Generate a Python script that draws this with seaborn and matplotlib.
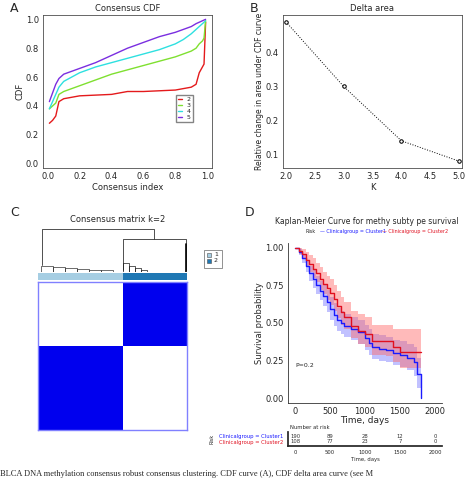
import numpy as np
import matplotlib
matplotlib.use("Agg")
import matplotlib.pyplot as plt
import seaborn as sns
import pandas as pd
from matplotlib.colors import ListedColormap

sns.set_theme(style="white")
plt.rcParams['font.family'] = ['DejaVu Sans']

# Panel A data
cdf_x = [0.01, 0.03, 0.05, 0.07, 0.1, 0.2, 0.3, 0.4, 0.5, 0.6, 0.7, 0.8, 0.85, 0.9, 0.93, 0.95, 0.97, 0.98, 0.99]
cdf_k2 = [0.28, 0.30, 0.33, 0.43, 0.45, 0.47, 0.475, 0.48, 0.50, 0.50, 0.505, 0.51, 0.52, 0.53, 0.55, 0.63, 0.67, 0.69, 0.98]
cdf_k3 = [0.38, 0.40, 0.42, 0.48, 0.50, 0.54, 0.58, 0.62, 0.65, 0.68, 0.71, 0.74, 0.76, 0.78, 0.80, 0.83, 0.85, 0.87, 0.99]
cdf_k4 = [0.38, 0.43, 0.48, 0.53, 0.57, 0.63, 0.67, 0.70, 0.73, 0.76, 0.79, 0.83, 0.86, 0.90, 0.93, 0.95, 0.97, 0.98, 0.99]
cdf_k5 = [0.43, 0.49, 0.55, 0.59, 0.62, 0.66, 0.70, 0.75, 0.80, 0.84, 0.88, 0.91, 0.93, 0.95, 0.97, 0.98, 0.99, 0.995, 1.0]
cdf_colors = ['#e41a1c', '#7fe030', '#2ee0e0', '#7a2ee0']
cdf_labels = ['2', '3', '4', '5']

# Panel B data
k_vals = [2, 3, 4, 5]
delta_vals = [0.49, 0.30, 0.14, 0.08]

# Panel C data
col_sizes = [57, 43]
row_sizes = [43, 57]
block_vals = [[0, 1], [1, 0]]

# Panel D data
t1 = [0, 50, 100, 150, 200, 250, 300, 350, 400, 450, 500, 550, 600, 650, 700, 800, 900, 1000, 1050, 1100, 1200, 1300, 1400, 1500, 1600, 1700, 1750, 1800]
s1 = [1.0, 0.97, 0.93, 0.88, 0.83, 0.79, 0.75, 0.71, 0.68, 0.64, 0.59, 0.55, 0.52, 0.50, 0.48, 0.46, 0.44, 0.40, 0.37, 0.34, 0.33, 0.32, 0.30, 0.29, 0.27, 0.24, 0.16, 0.0]
l1 = [1.0, 0.95, 0.90, 0.84, 0.78, 0.73, 0.69, 0.65, 0.61, 0.57, 0.52, 0.48, 0.45, 0.43, 0.41, 0.39, 0.36, 0.32, 0.29, 0.26, 0.25, 0.24, 0.22, 0.21, 0.19, 0.15, 0.07, 0.0]
u1 = [1.0, 0.99, 0.96, 0.92, 0.88, 0.85, 0.81, 0.78, 0.75, 0.72, 0.67, 0.63, 0.60, 0.58, 0.56, 0.54, 0.52, 0.49, 0.46, 0.43, 0.42, 0.41, 0.39, 0.38, 0.36, 0.34, 0.27, 0.16]
t2 = [0, 50, 100, 150, 200, 250, 300, 350, 400, 450, 500, 550, 600, 650, 700, 800, 900, 1000, 1100, 1300, 1400, 1500, 1800]
s2 = [1.0, 0.98, 0.96, 0.92, 0.89, 0.86, 0.83, 0.79, 0.76, 0.73, 0.70, 0.66, 0.61, 0.57, 0.54, 0.48, 0.45, 0.43, 0.38, 0.38, 0.34, 0.31, 0.31]
l2 = [1.0, 0.96, 0.93, 0.88, 0.84, 0.80, 0.77, 0.72, 0.69, 0.65, 0.62, 0.58, 0.53, 0.49, 0.46, 0.40, 0.36, 0.34, 0.29, 0.28, 0.24, 0.20, 0.18]
u2 = [1.0, 1.0, 0.99, 0.97, 0.95, 0.93, 0.90, 0.87, 0.84, 0.81, 0.79, 0.75, 0.71, 0.67, 0.64, 0.58, 0.56, 0.54, 0.49, 0.49, 0.46, 0.46, 0.46]
risk_times = [0, 500, 1000, 1500, 2000]
risk_c1 = [190, 89, 28, 12, 0]
risk_c2 = [108, 77, 23, 7, 0]

W, H = 474, 478
fig = plt.figure(figsize=(W / 100, H / 100), dpi=100)
def ax_px(x0, y0, x1, y1):
    return fig.add_axes([x0 / W, 1 - y1 / H, (x1 - x0) / W, (y1 - y0) / H])

fs = 6
# ---- A
axA = ax_px(43, 15, 212, 168)
df = pd.DataFrame({'x': cdf_x * 4,
                   'y': cdf_k2 + cdf_k3 + cdf_k4 + cdf_k5,
                   'k': sum([[l] * len(cdf_x) for l in cdf_labels], [])})
sns.lineplot(data=df, x='x', y='y', hue='k', palette=cdf_colors, ax=axA, lw=1)
axA.set_xlim(-0.03, 1.03); axA.set_ylim(-0.03, 1.03)
axA.set_xticks(np.arange(0, 1.01, 0.2)); axA.set_yticks(np.arange(0, 1.01, 0.2))
axA.tick_params(labelsize=fs, length=2, pad=1)
axA.set_xlabel('Consensus index', fontsize=fs, labelpad=1)
axA.set_ylabel('CDF', fontsize=fs, labelpad=1)
axA.set_title('Consensus CDF', fontsize=fs, pad=3)
leg = axA.legend(title=None, fontsize=4.5, loc='center left', bbox_to_anchor=(0.77, 0.39),
                 handlelength=0.6, borderpad=0.3, labelspacing=0.1, fancybox=False, edgecolor='0.4')
for s in axA.spines.values():
    s.set_color('0.3'); s.set_linewidth(0.6)
fig.text(10 / W, 1 - 8 / H, 'A', fontsize=9, va='center')

# ---- B
axB = ax_px(283, 15, 462, 168)
sns.lineplot(x=k_vals, y=delta_vals, ax=axB, color='black', lw=0.7, ls=':', marker='o',
             markersize=2.5, markerfacecolor='white', markeredgecolor='black')
axB.set_xlim(1.95, 5.05); axB.set_ylim(0.06, 0.51)
axB.set_xticks([2.0, 2.5, 3.0, 3.5, 4.0, 4.5, 5.0]); axB.set_yticks([0.1, 0.2, 0.3, 0.4])
axB.tick_params(labelsize=fs, length=2, pad=1)
axB.set_xlabel('K', fontsize=fs, labelpad=1)
axB.set_ylabel('Relative change in area under CDF curve', fontsize=5.5, labelpad=1)
axB.set_title('Delta area', fontsize=fs, pad=3)
for s in axB.spines.values():
    s.set_color('0.3'); s.set_linewidth(0.6)
fig.text(250 / W, 1 - 8 / H, 'B', fontsize=9, va='center')

# ---- C
fig.text(10 / W, 1 - 213 / H, 'C', fontsize=9, va='center')
fig.text(118 / W, 1 - 219 / H, 'Consensus matrix k=2', fontsize=fs, ha='center', va='center')
axD0 = ax_px(38, 225, 187, 272)
axD0.set_xlim(0, 100); axD0.set_ylim(0, 1)
axD0.axis('off')
axD0.plot([3, 3, 78, 78], [0.15, 0.92, 0.92, 0.7], color='0.2', lw=0.6)
axD0.plot([57, 57, 99, 99], [0.05, 0.7, 0.7, 0.05], color='0.2', lw=0.6)
for i, h in enumerate([0.12, 0.1, 0.08, 0.06, 0.05, 0.04]):
    axD0.plot([2 + i * 8, 2 + i * 8, 10 + i * 8, 10 + i * 8], [0.0, h, h, 0.0], color='0.2', lw=0.5)
for i, h in enumerate([0.2, 0.12, 0.08, 0.05]):
    axD0.plot([57 + i * 4, 57 + i * 4, 61 + i * 4, 61 + i * 4], [0.0, h, h, 0.0], color='0.1', lw=0.5)
axD0.plot([99, 99], [0, 0.6], color='black', lw=1.2)

axBar = ax_px(38, 273, 187, 280)
bar_vals = np.repeat([0, 1], col_sizes)[None, :]
sns.heatmap(bar_vals, ax=axBar, cmap=ListedColormap(['#a6cee3', '#1f78b4']), cbar=False,
            xticklabels=False, yticklabels=False)
fig.patches.append(plt.Rectangle((204 / W, 1 - 268 / H), 18 / W, 18 / H, transform=fig.transFigure,
                                 fill=False, edgecolor='0.4', lw=0.5))
for i, c in enumerate(['#a6cee3', '#1f78b4']):
    fig.patches.append(plt.Rectangle((207 / W, 1 - (257 + i * 6) / H), 4 / W, 4 / H,
                                     transform=fig.transFigure, facecolor=c, edgecolor='0.3', lw=0.4))
    fig.text(214 / W, 1 - (255 + i * 6) / H, str(i + 1), fontsize=4.5, va='center')

axC = ax_px(38, 282, 187, 430)
mat = np.zeros((sum(row_sizes), sum(col_sizes)))
r0 = 0
for i, rs in enumerate(row_sizes):
    c0 = 0
    for j, cs in enumerate(col_sizes):
        mat[r0:r0 + rs, c0:c0 + cs] = block_vals[i][j]
        c0 += cs
    r0 += rs
sns.heatmap(mat, ax=axC, cmap=ListedColormap(['white', '#0000ee']), cbar=False,
            xticklabels=False, yticklabels=False)
for s in ['left', 'right', 'top', 'bottom']:
    axC.spines[s].set_visible(True); axC.spines[s].set_color('#8080ff'); axC.spines[s].set_linewidth(1)

# ---- D
fig.text(245 / W, 1 - 213 / H, 'D', fontsize=9, va='center')
fig.text(367 / W, 1 - 221 / H, 'Kaplan-Meier Curve for methy subty pe survival', fontsize=5.5, ha='center', va='center')
fig.text(305 / W, 1 - 232 / H, 'Risk', fontsize=3.5, va='center')
fig.text(320 / W, 1 - 232 / H, '\u2014 Clinicalgroup = Cluster1', color='#1a1aff', fontsize=3.5, va='center')
fig.text(382 / W, 1 - 232 / H, '\u2014 Clinicalgroup = Cluster2', color='#e01020', fontsize=3.5, va='center')
axK = ax_px(288, 243, 442, 403)
axK.fill_between(t1, l1, u1, step='post', color='#7777ff', alpha=0.45, lw=0)
axK.fill_between(t2, l2, u2, step='post', color='#ff6666', alpha=0.45, lw=0)
axK.step(t1, s1, where='post', color='#1a1aff', lw=1)
axK.step(t2, s2, where='post', color='#e01020', lw=1)
axK.set_xlim(-100, 2100); axK.set_ylim(-0.03, 1.03)
axK.set_xticks(risk_times); axK.set_yticks([0, 0.25, 0.5, 0.75, 1.0])
axK.set_yticklabels(['0.00', '0.25', '0.50', '0.75', '1.00'])
axK.tick_params(labelsize=fs, length=2, pad=1)
axK.set_xlabel('Time, days', fontsize=6.5, labelpad=0)
axK.set_ylabel('Survival probability', fontsize=fs, labelpad=1)
axK.text(0, 0.21, 'P=0.2', fontsize=4.5)
sns.despine(ax=axK)
for s in ['left', 'bottom']:
    axK.spines[s].set_color('0.2'); axK.spines[s].set_linewidth(0.6)

axR = ax_px(288, 432, 442, 446)
axR.set_xlim(-100, 2100); axR.set_ylim(0, 2)
for t, a, b in zip(risk_times, risk_c1, risk_c2):
    axR.text(t, 1.4, str(a), fontsize=3.8, ha='center', va='center', color='0.2')
    axR.text(t, 0.6, str(b), fontsize=3.8, ha='center', va='center', color='0.2')
axR.set_xticks(risk_times); axR.set_yticks([1.4, 0.6])
axR.set_yticklabels(['Clinicalgroup = Cluster1', 'Clinicalgroup = Cluster2'], fontsize=3.8)
for lab, c in zip(axR.get_yticklabels(), ['#1a1aff', '#e01020']):
    lab.set_color(c)
axR.tick_params(axis='x', labelsize=3.8, length=2, pad=1)
axR.tick_params(axis='y', length=2, pad=1)
axR.set_xlabel('Time, days', fontsize=3.8, labelpad=1)
sns.despine(ax=axR)
fig.text(290 / W, 1 - 430 / H, 'Number at risk', fontsize=3.8, va='bottom')
fig.text(212 / W, 1 - 439 / H, 'Risk', fontsize=3.5, rotation=90, va='center', ha='center')

fig.text(0, 1 - 474 / H, 'BLCA DNA methylation consensus robust consensus clustering. CDF curve (A), CDF delta area curve (see M',
         fontsize=6, family='Liberation Serif', va='center')

fig.savefig('out.png', dpi=100)
